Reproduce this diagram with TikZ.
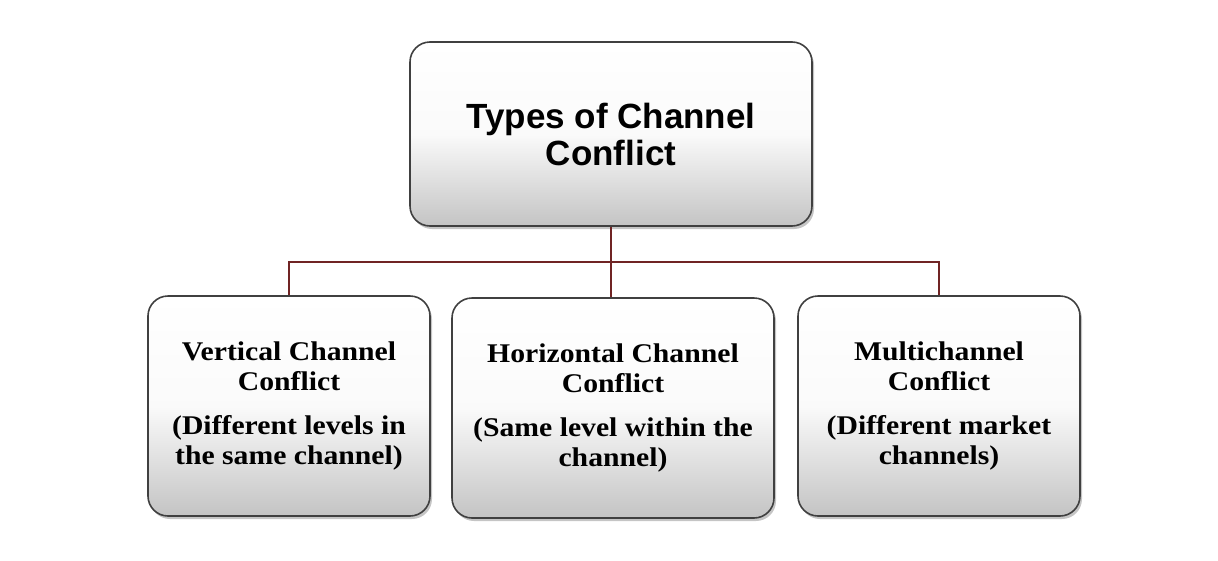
\documentclass[tikz,border=0pt]{standalone}
\usepackage{fontspec}
\usetikzlibrary{shadows}
\newfontfamily\titlefont{Liberation Sans}
\newfontfamily\boxfont[FakeStretch=1.1]{Liberation Serif}
\definecolor{linkred}{RGB}{112,36,36}
\definecolor{boxgray}{RGB}{196,196,196}

\tikzset{
  box/.style={draw=black!75, line width=1.6pt, rounded corners=20pt,
    top color=white, bottom color=boxgray, middle color=white!92!boxgray,
    drop shadow={shadow xshift=2pt, shadow yshift=-3pt, opacity=0.45},
    align=center, inner sep=0pt},
  link/.style={draw=linkred, line width=1.8pt}
}

\begin{document}
\begin{tikzpicture}[x=1pt,y=-1pt]
  \useasboundingbox[fill=white] (0,0) rectangle (1218,560);

  \begin{scope}[every node/.style={box}]
    \node[minimum width=402pt, minimum height=184pt,
      font=\titlefont\bfseries\fontsize{35}{37}\selectfont] (top) at (611,134)
      {Types of Channel\\Conflict};
    \node[minimum width=282pt, minimum height=220pt,
      font=\boxfont\bfseries\fontsize{27}{30}\selectfont] (vert) at (289,406)
      {Vertical Channel\\Conflict\\[14pt](Different levels in\\the same channel)};
    \node[minimum width=322pt, minimum height=220pt,
      font=\boxfont\bfseries\fontsize{27}{30}\selectfont] (horiz) at (613,408)
      {Horizontal Channel\\Conflict\\[14pt](Same level within the\\channel)};
    \node[minimum width=282pt, minimum height=220pt,
      font=\boxfont\bfseries\fontsize{27}{30}\selectfont] (multi) at (939,406)
      {Multichannel\\Conflict\\[14pt](Different market\\channels)};
  \end{scope}

  \coordinate (bus) at (top.south |- 0,262);

  \path[link] (top.south) -- (bus) -- (bus |- horiz.north);
  \path[link] (vert.north) |- (bus) -| (multi.north);

\end{tikzpicture}
\end{document}
